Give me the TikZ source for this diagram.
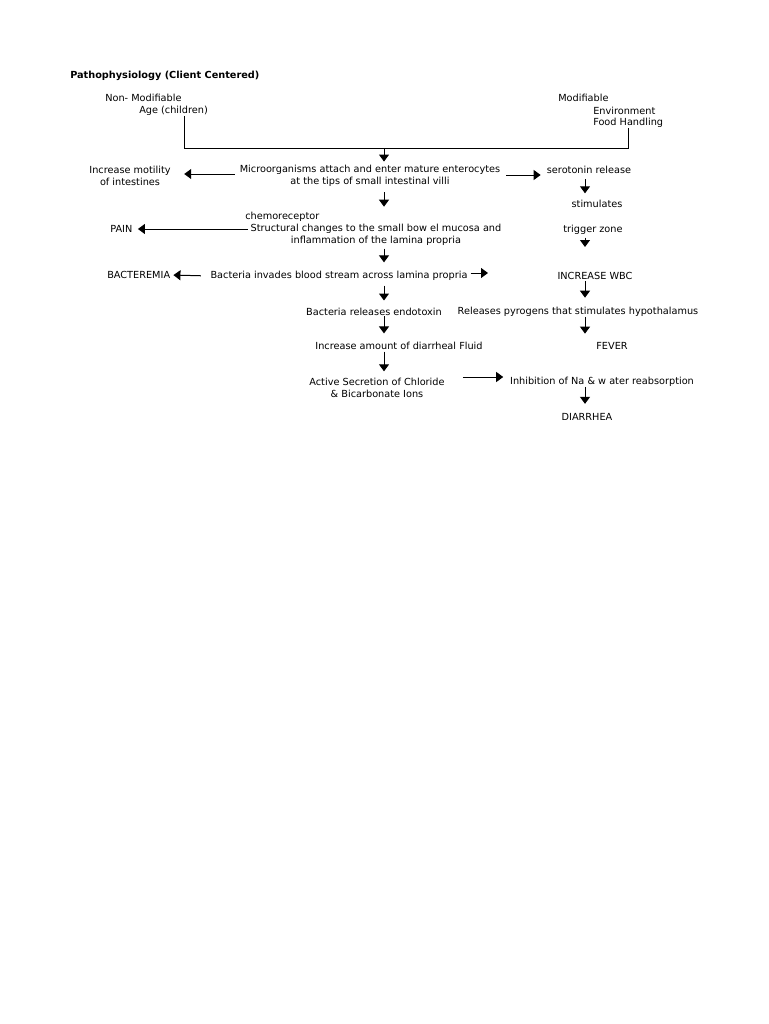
\documentclass[tikz,border=0pt]{standalone}
\usepackage{fontspec}
\setmainfont{DejaVu Sans}
\usetikzlibrary{arrows.meta}

\begin{document}
\begin{tikzpicture}[x=0.75pt, y=-0.75pt, >={Triangle[length=5.25pt,width=7.5pt]},
	txt/.style={inner sep=0pt, font=\fontsize{7.3}{9}\selectfont, align=center},
	arr/.style={->, line width=0.75pt}]
	\useasboundingbox (0,0) rectangle (768,1024);
	
	% Title and risk factors
	\node[txt, anchor=west, font=\fontsize{7.3}{9}\selectfont\bfseries] (title) at (70,76) {Pathophysiology (Client Centered)};
	\node[txt, anchor=west] (nonmod) at (105,98) {Non- Modifiable};
	\node[txt, anchor=west] (age) at (139,111) {Age (children)};
	\node[txt, anchor=west] (modif) at (558,98) {Modifiable};
	\node[txt, anchor=west] (env) at (593,111) {Environment};
	\node[txt, anchor=west] (food) at (593,123) {Food Handling};
	
	\coordinate (jl) at (184,148);
	\coordinate (jr) at (628,148);
	\coordinate (junc) at (384,148);
	
	% Left column
	\node[txt] (motil) at (130,176) {Increase motility\\of intestines};
	\node[txt, anchor=west] (pain) at (110,229) {PAIN};
	\node[txt, anchor=west] (bactm) at (107,275) {BACTEREMIA};
	
	% Middle column
	\node[txt] (micro) at (370,176) {Microorganisms attach and enter mature enterocytes\\at the tips of small intestinal villi};
	\node[txt, anchor=west] (chemo) at (245,217) {chemoreceptor};
	\node[txt] (struct) at (376,235) {Structural changes to the small bow el mucosa and\\inflammation of the lamina propria};
	\node[txt] (bactinv) at (339,276) {Bacteria invades blood stream across lamina propria};
	\node[txt] (endo) at (374,312) {Bacteria releases endotoxin};
	\node[txt] (incr) at (399,346) {Increase amount of diarrheal Fluid};
	\node[txt] (active) at (377,388) {Active Secretion of Chloride\\\& Bicarbonate Ions};
	
	% Right column
	\node[txt] (sero) at (589,170) {serotonin release};
	\node[txt] (stim) at (597,204) {stimulates};
	\node[txt] (trig) at (593,230) {trigger zone};
	\node[txt] (wbc) at (595,276) {INCREASE WBC};
	\node[txt] (pyro) at (578,312) {Releases pyrogens that stimulates hypothalamus};
	\node[txt] (fever) at (612,346) {FEVER};
	\node[txt] (inhib) at (602,382) {Inhibition of Na \& w ater reabsorption};
	\node[txt] (diarr) at (587,417) {DIARRHEA};
	
	\coordinate (colL) at (384,0);
	\coordinate (colR) at (585,0);
	\coordinate (tstub) at (585,247);
	\coordinate (bstub) at (488,273);
	
	% connections
	\draw[line width=0.75pt] (age.south -| jl) -- (jl) -- (jr) -- (food.south -| jr);
	\draw[arr, shorten >=2.6pt] (junc) -- (micro.north -| colL);
	\draw[arr, shorten <=4pt, shorten >=13pt] (micro.south -| colL) -- (struct.north -| colL);
	\draw[arr, shorten <=2pt, shorten >=6.5pt] (struct.south -| colL) -- (bactinv.north -| colL);
	\draw[arr, shorten <=3.4pt, shorten >=5.6pt] (bactinv.south -| colL) -- (endo.north -| colL);
	\draw[arr, shorten >=6.4pt] (endo.south -| colL) -- (incr.north -| colL);
	\draw[arr, shorten <=1.1pt, shorten >=5pt] (incr.south -| colL) -- (active.north -| colL);
	
	\draw[arr, shorten <=4pt, shorten >=5pt] (sero.south -| colR) -- (stim.north -| colR);
	\draw[arr, shorten <=2pt] (trig.south -| colR) -- (tstub);
	\draw[arr, shorten <=1.1pt, shorten >=7pt] (wbc.south -| colR) -- (pyro.north -| colR);
	\draw[arr, shorten >=6.4pt] (pyro.south -| colR) -- (fever.north -| colR);
	\draw[arr, shorten >=7pt] (inhib.south -| colR) -- (diarr.north -| colR);
	
	\draw[arr, shorten <=3.75pt, shorten >=10pt] ([yshift=1.5pt]micro.west) -- ([yshift=1.5pt]motil.east);
	\draw[arr, shorten <=4.5pt, shorten >=4.5pt] ([yshift=0.75pt]micro.east) -- ([yshift=0.75pt]sero.west |- micro.east);
	\draw[arr, shorten <=2pt, shorten >=4pt] (struct.west |- pain) -- (pain.east);
	\draw[arr, shorten <=7pt, shorten >=2.25pt] (bactinv.west) -- (bactm.east);
	\draw[arr, shorten <=2.25pt] (bactinv.east |- bstub) -- (bstub);
	\draw[arr, shorten <=13.5pt, shorten >=5pt] ([yshift=3.75pt]active.east |- inhib.west) -- ([yshift=3.75pt]inhib.west);
\end{tikzpicture}
\end{document}
